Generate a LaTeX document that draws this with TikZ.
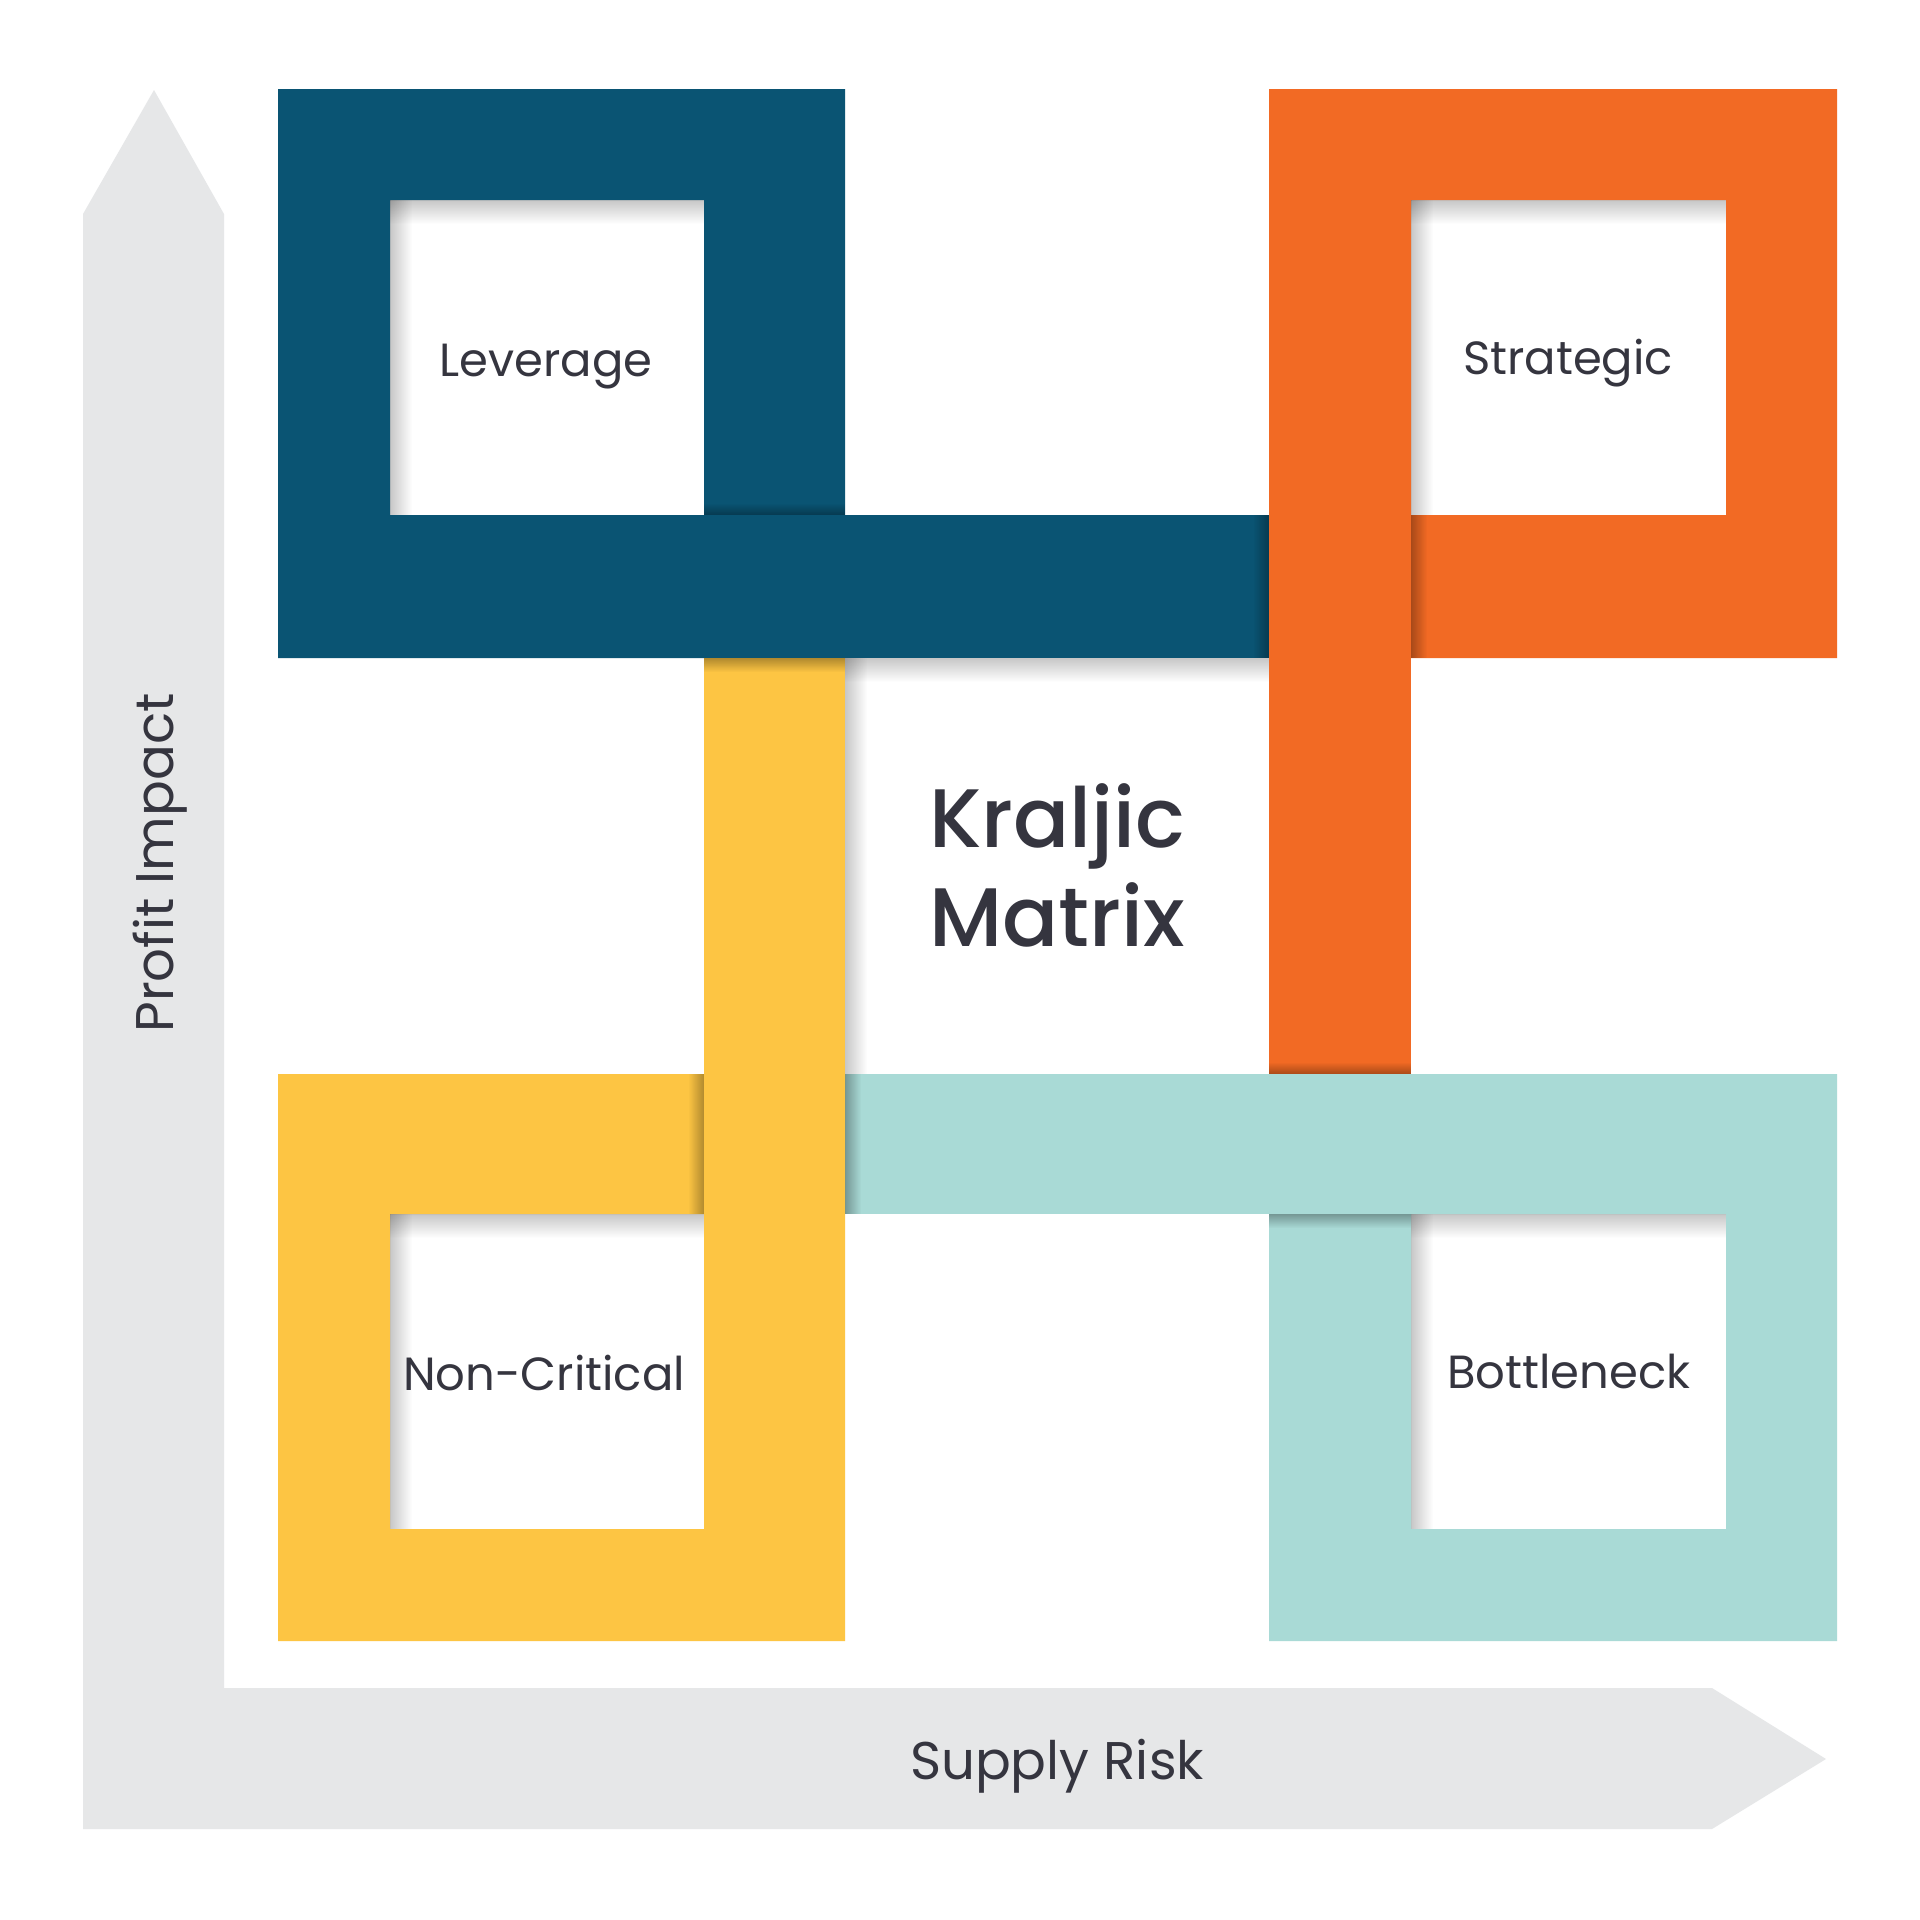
\documentclass[tikz,border=0pt]{standalone}
\usepackage{fontspec}
\setmainfont{Poppins}
\newfontfamily\medfont{Poppins Medium}
\usetikzlibrary{fadings}
\definecolor{cblue}{HTML}{0A5473}
\definecolor{corange}{HTML}{F26A24}
\definecolor{cyellow}{HTML}{FDC543}
\definecolor{cteal}{HTML}{A9DAD6}
\definecolor{caxis}{HTML}{E6E7E8}
\definecolor{ctext}{HTML}{35353F}
\tikzfading[name=fdown, top color=transparent!0, bottom color=transparent!100]
\tikzfading[name=fup, top color=transparent!100, bottom color=transparent!0]
\tikzfading[name=fright, left color=transparent!0, right color=transparent!100]
\tikzfading[name=fleft, left color=transparent!100, right color=transparent!0]
\def\XA{278}\def\XB{390}\def\XC{704}\def\XD{845}
\def\XE{1269}\def\XF{1411}\def\XG{1726}\def\XH{1837}
\def\YA{89}\def\YB{200}\def\YC{515}\def\YD{658}
\def\YE{1074}\def\YF{1214}\def\YG{1529}\def\YH{1641}
\tikzset{
  lbl/.style={text=ctext, font=\fontsize{46.5}{56}\selectfont, anchor=base, inner sep=0pt},
  axlbl/.style={text=ctext, font=\fontsize{53}{64}\selectfont, anchor=base, inner sep=0pt},
  ttl/.style={text=ctext, font=\medfont\fontsize{83}{100}\selectfont, anchor=base west, inner sep=0pt},
  wsh/.style={fill=black, opacity=0.22},
  csh/.style={fill=black, opacity=0.30}
}
\begin{document}
\begin{tikzpicture}[x=1pt,y=-1pt]
\useasboundingbox (0,0) rectangle (1920,1920);
\fill[white] (0,0) rectangle (1920,1920);
% axes
\fill[caxis] (83,1829) -- (83,214) -- (154,90) -- (224,214) -- (224,1688)
  -- (1712,1688) -- (1826,1759) -- (1712,1829) -- cycle;
% frames
\fill[cblue, even odd rule] (\XA,\YA) rectangle (\XD,\YD) (\XB,\YB) rectangle (\XC,\YC);
\fill[cblue] (\XD,\YC) rectangle (\XE,\YD);
\fill[corange, even odd rule] (\XE,\YA) rectangle (\XH,\YD) (\XF,\YB) rectangle (\XG,\YC);
\fill[corange] (\XE,\YD) rectangle (\XF,\YE);
\fill[cteal, even odd rule] (\XE,\YE) rectangle (\XH,\YH) (\XF,\YF) rectangle (\XG,\YG);
\fill[cteal] (\XD,\YE) rectangle (\XE,\YF);
\fill[cyellow, even odd rule] (\XA,\YE) rectangle (\XD,\YH) (\XB,\YF) rectangle (\XC,\YG);
\fill[cyellow] (\XC,\YD) rectangle (\XD,\YE);
% shadows in white boxes
\fill[wsh, path fading=fdown] (\XB,\YB) rectangle (\XC,\YB+24);
\fill[wsh, path fading=fright] (\XB,\YB) rectangle (\XB+22,\YC);
\fill[wsh, path fading=fdown] (\XF,\YB) rectangle (\XG,\YB+24);
\fill[wsh, path fading=fright] (\XF,\YB) rectangle (\XF+22,\YC);
\fill[wsh, path fading=fdown] (\XF,\YF) rectangle (\XG,\YF+24);
\fill[wsh, path fading=fright] (\XF,\YF) rectangle (\XF+22,\YG);
\fill[wsh, path fading=fdown] (\XB,\YF) rectangle (\XC,\YF+24);
\fill[wsh, path fading=fright] (\XB,\YF) rectangle (\XB+22,\YG);
\fill[wsh, path fading=fdown] (\XD,\YD) rectangle (\XE,\YD+24);
\fill[wsh, path fading=fright] (\XD,\YD) rectangle (\XD+22,\YE);
% shadows on coloured parts
\fill[csh, path fading=fup] (\XC,\YC-12) rectangle (\XD,\YC);
\fill[csh, path fading=fdown] (\XC,\YD) rectangle (\XD,\YD+14);
\fill[csh, path fading=fleft] (\XE-16,\YC) rectangle (\XE,\YD);
\fill[csh, path fading=fright] (\XF,\YC) rectangle (\XF+16,\YD);
\fill[csh, path fading=fup] (\XE,\YE-12) rectangle (\XF,\YE);
\fill[csh, path fading=fdown] (\XE,\YF) rectangle (\XF,\YF+14);
\fill[csh, path fading=fright] (\XD,\YE) rectangle (\XD+16,\YF);
\fill[csh, path fading=fleft] (\XC-16,\YE) rectangle (\XC,\YF);
% labels
\node[lbl] (lev) at (546,376.6) {Leverage};
\node[lbl] (str) at (1568,374) {Strategic};
\node[lbl] (non) at (544,1390) {Non-Critical};
\node[lbl] (bot) at (1569,1388.6) {Bottleneck};
\node[ttl] (ttlA) at (929,847) {Kraljic};
\node[ttl] (ttlB) at (929,946) {Matrix};
\node[axlbl] (xlab) at (1057,1779) {Supply Risk};
\node[axlbl, rotate=90] (ylab) at (173,863) {Profit Impact};
\end{tikzpicture}
\end{document}
